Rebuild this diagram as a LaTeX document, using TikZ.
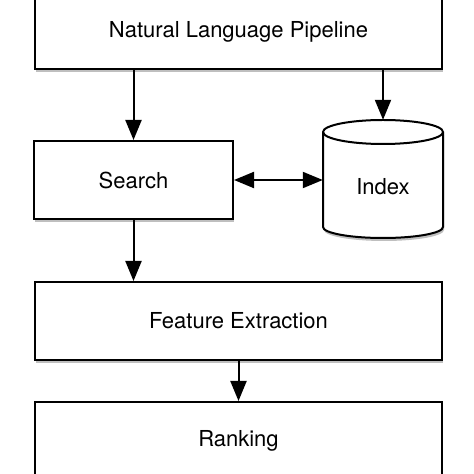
\documentclass[tikz,border=0pt]{standalone}
\usepackage{fontspec}
\setmainfont{TeX Gyre Heros}
\usetikzlibrary{arrows.meta,shadows}
\begin{document}
\begin{tikzpicture}[x=1pt,y=1pt,
  box/.style={draw,line width=2pt,fill=white,minimum width=407pt,minimum height=78pt,inner sep=0pt,
    drop shadow={shadow xshift=1pt,shadow yshift=-3pt,opacity=0.25,fill=black}},
  smallbox/.style={box,minimum width=199pt},
  lbl/.style={font=\fontsize{22}{26}\selectfont},
  conn/.style={line width=2pt,-{Triangle[length=20pt,width=16pt]}},
  dconn/.style={line width=2pt,{Triangle[length=20pt,width=16pt]}-{Triangle[length=20pt,width=16pt]}}]
\useasboundingbox (0,0) rectangle (474,474);
\clip (0,0) rectangle (474,474);
\node[box,lbl,minimum height=74pt] (nlp) at (238.5,442) {Natural Language Pipeline};
\node[smallbox,lbl] (search) at (133.5,294) {Search};
\node[box,lbl] (feat) at (238.5,153) {Feature Extraction};
\node[box,lbl] (rank) at (238.5,33) {Ranking};
% cylinder
\fill[black,opacity=0.25] (324,339) -- (324,244) arc[start angle=180,end angle=360,x radius=60,y radius=11] -- (444,339) -- cycle;
\draw[line width=2pt,fill=white] (323,342) -- (323,247) arc[start angle=180,end angle=360,x radius=60,y radius=11] -- (443,342) arc[start angle=0,end angle=180,x radius=60,y radius=12] -- cycle;
\draw[line width=2pt] (323,342) arc[start angle=180,end angle=360,x radius=60,y radius=12];
\node[minimum width=120pt,minimum height=118pt,inner sep=0pt] (index) at (383,295) {};
\node[lbl] (indexlbl) at (383,287) {Index};
% connectors
\draw[conn] (search.north |- nlp.south) -- (search.north);
\draw[conn] (index.north |- nlp.south) -- (index.north);
\draw[dconn] (search.east) -- (index.west |- search.east);
\draw[conn] (search.south) -- (search.south |- feat.north);
\draw[conn] (feat.south) -- (rank.north);
\end{tikzpicture}
\end{document}
